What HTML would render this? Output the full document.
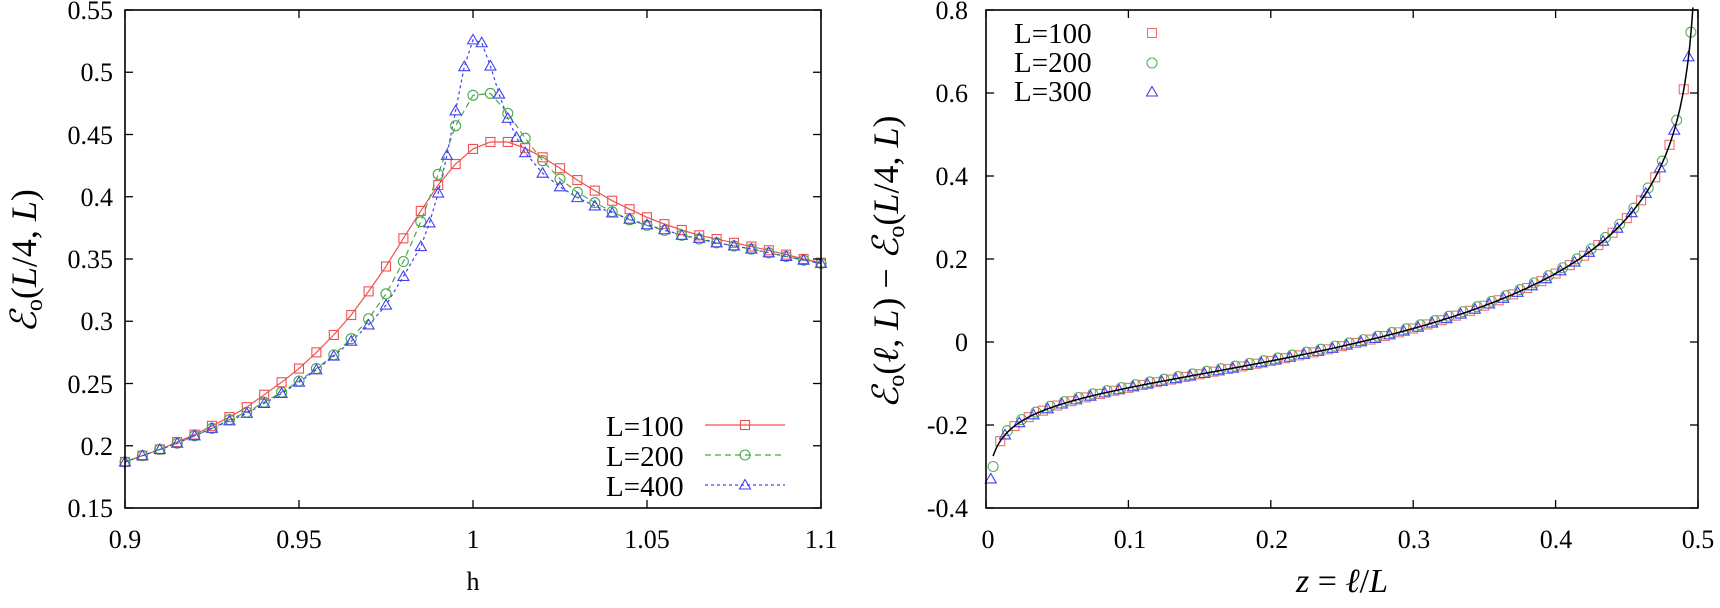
<!DOCTYPE html>
<html><head><meta charset="utf-8">
<style>
html,body{margin:0;padding:0;background:#fff;}
svg, svg text{font-family:"Liberation Serif","DejaVu Serif",serif;}
</style></head>
<body>
<svg id="s" width="1720" height="603" viewBox="0 0 1720 603" xmlns="http://www.w3.org/2000/svg" font-family="'Liberation Serif', 'DejaVu Serif', serif">
<rect width="1720" height="603" fill="#fff"/>
<g id="L"></g>
<g id="R"></g>
<g font-size="26" fill="#000" font-family="'Liberation Serif', serif">
<g text-anchor="end">
<text x="113" y="19">0.55</text>
<text x="113" y="81">0.5</text>
<text x="113" y="144">0.45</text>
<text x="113" y="206">0.4</text>
<text x="113" y="268">0.35</text>
<text x="113" y="330">0.3</text>
<text x="113" y="393">0.25</text>
<text x="113" y="455">0.2</text>
<text x="113" y="517">0.15</text>
</g>
<g text-anchor="middle">
<text x="125" y="548">0.9</text>
<text x="299" y="548">0.95</text>
<text x="473" y="548">1</text>
<text x="647" y="548">1.05</text>
<text x="821" y="548">1.1</text>
<text x="473" y="590">h</text>
</g>
<g text-anchor="end">
<text x="968" y="19">0.8</text>
<text x="968" y="102">0.6</text>
<text x="968" y="185">0.4</text>
<text x="968" y="268">0.2</text>
<text x="968" y="351">0</text>
<text x="968" y="434">-0.2</text>
<text x="968" y="517">-0.4</text>
</g>
<g text-anchor="middle">
<text x="988" y="548">0</text>
<text x="1130" y="548">0.1</text>
<text x="1272" y="548">0.2</text>
<text x="1414" y="548">0.3</text>
<text x="1556" y="548">0.4</text>
<text x="1698" y="548">0.5</text>
</g>
</g>
<g font-family="'Liberation Serif', 'DejaVu Serif', serif">
<text x="1342" y="592" font-size="34" text-anchor="middle" font-style="italic">z <tspan font-style="normal">=</tspan> ℓ<tspan font-style="normal">/</tspan>L</text>
<text transform="translate(36,261) rotate(-90)" font-size="36" text-anchor="middle"><tspan font-style="italic">ℰ</tspan><tspan font-size="24" dy="6">o</tspan><tspan dy="-6">(</tspan><tspan font-style="italic">L</tspan>/4, <tspan font-style="italic">L</tspan>)</text>
<text transform="translate(898,262) rotate(-90)" font-size="36" text-anchor="middle"><tspan font-style="italic">ℰ</tspan><tspan font-size="24" dy="6">o</tspan><tspan dy="-6">(</tspan><tspan font-style="italic">ℓ</tspan>, <tspan font-style="italic">L</tspan>) − <tspan font-style="italic">ℰ</tspan><tspan font-size="24" dy="6">o</tspan><tspan dy="-6">(</tspan><tspan font-style="italic">L</tspan>/4, <tspan font-style="italic">L</tspan>)</text>
<g font-size="29">
<text x="606" y="436">L=100</text>
<text x="606" y="466">L=200</text>
<text x="606" y="496">L=400</text>
<text x="1014" y="43">L=100</text>
<text x="1014" y="72">L=200</text>
<text x="1014" y="101">L=300</text>
</g>
</g>
</svg>
<script>
var NS="http://www.w3.org/2000/svg";
function el(p,t,a){var e=document.createElementNS(NS,t);for(var k in a)e.setAttribute(k,a[k]);p.appendChild(e);return e;}
var RED="#f05050",GRN="#4aa84a",BLU="#4040f0";
function mark(g,type,x,y,c){
 if(type==0) el(g,"rect",{x:x-4.5,y:y-4.5,width:9,height:9,fill:"none",stroke:c,"stroke-width":1.1});
 else if(type==1) el(g,"circle",{cx:x,cy:y,r:5,fill:"none",stroke:c,"stroke-width":1.1});
 else el(g,"path",{d:"M"+x+","+(y-5.5)+"L"+(x+5.5)+","+(y+4)+"L"+(x-5.5)+","+(y+4)+"Z",fill:"none",stroke:c,"stroke-width":1.1});
}
var gL=document.getElementById("L");
function lx(h){return 125+(h-0.9)*3480;}
function ly(E){return 10+(0.55-E)*1245;}
function seq(vals,start,step){var r=[];for(var i=0;i<vals.length;i++)r.push([start+i*step,vals[i]]);return r;}
var red=seq([0.187,0.192,0.197,0.203,0.209,0.216,0.223,0.231,0.241,0.251,0.262,0.275,0.289,0.305,0.324,0.344,0.3666,0.3886,0.4094,0.4263,0.4384,0.444,0.444,0.439,0.4317,0.4229,0.4134,0.4049,0.3968,0.390,0.3835,0.378,0.3733,0.369,0.366,0.363,0.360,0.357,0.3535,0.350,0.347],0.9,0.005);
var grn=seq([0.187,0.192,0.197,0.202,0.208,0.214,0.221,0.227,0.235,0.243,0.252,0.262,0.273,0.286,0.302,0.322,0.348,0.38,0.418,0.457,0.4815,0.483,0.467,0.447,0.429,0.4143,0.4036,0.3953,0.388,0.3815,0.377,0.373,0.369,0.366,0.363,0.3605,0.358,0.355,0.352,0.349,0.3465],0.9,0.005);
var blu=seq([0.187,0.192,0.197,0.202,0.208,0.214,0.220,0.226,0.234,0.242,0.251,0.261,0.272,0.284,0.297,0.313,0.336],0.9,0.005);
var bp=seq([0.360,0.379,0.403,0.4333,0.469,0.5045,0.526,0.5237,0.505,0.4825,0.463,0.4477,0.4354],0.985,0.0025);
blu=blu.concat(bp);
var bt=seq([0.4189,0.408,0.3993,0.3926,0.387,0.382,0.3775,0.3735,0.369,0.3666,0.363,0.3605,0.358,0.355,0.352,0.349,0.3465],1.02,0.005);
blu=blu.concat(bt);
function pl(g,d,c,dash){var s="";d.forEach(function(p,i){s+=(i?"L":"M")+lx(p[0]).toFixed(1)+","+ly(p[1]).toFixed(1);});
 var a={d:s,fill:"none",stroke:c,"stroke-width":1.2};if(dash)a["stroke-dasharray"]=dash;el(g,"path",a);}
pl(gL,red,RED,null);pl(gL,grn,GRN,"6,4");pl(gL,blu,BLU,"3,3");
red.forEach(function(p){mark(gL,0,lx(p[0]),ly(p[1]),RED);});
grn.forEach(function(p){mark(gL,1,lx(p[0]),ly(p[1]),GRN);});
blu.forEach(function(p){mark(gL,2,lx(p[0]),ly(p[1]),BLU);});
el(gL,"line",{x1:705,y1:425,x2:785,y2:425,stroke:RED,"stroke-width":1.2});mark(gL,0,745,425,RED);
el(gL,"line",{x1:705,y1:455,x2:785,y2:455,stroke:GRN,"stroke-width":1.2,"stroke-dasharray":"6,4"});mark(gL,1,745,455,GRN);
el(gL,"line",{x1:705,y1:485,x2:785,y2:485,stroke:BLU,"stroke-width":1.2,"stroke-dasharray":"3,3"});mark(gL,2,745,485,BLU);
el(gL,"rect",{x:125,y:10,width:696,height:498,fill:"none",stroke:"#000","stroke-width":1.6});
for(var i=0;i<=4;i++){var x=125+i*174;el(gL,"line",{x1:x,y1:508,x2:x,y2:500,stroke:"#000","stroke-width":1.3});el(gL,"line",{x1:x,y1:10,x2:x,y2:18,stroke:"#000","stroke-width":1.3});}
for(var i=0;i<=8;i++){var y=10+i*62.25;el(gL,"line",{x1:125,y1:y,x2:133,y2:y,stroke:"#000","stroke-width":1.3});el(gL,"line",{x1:821,y1:y,x2:813,y2:y,stroke:"#000","stroke-width":1.3});}
var gR=document.getElementById("R");
function rx(z){return 986+z*1424;}
function ry(v){return 10+(0.8-v)*415;}
function f(z){var t=Math.PI*z;return 0.052*Math.log(Math.tan(t))-0.141*Math.log(Math.cos(t))-0.059;}
var s="";for(var i=0;i<=600;i++){var z=0.005+(0.4997-0.005)*(i/600);var v=f(z);if(v>0.82)break;s+=(i?"L":"M")+rx(z).toFixed(1)+","+ry(v).toFixed(1);}
for(var k=1;k<50;k++){var z=k/100;mark(gR,0,rx(z),ry(f(z)),"#f07070");}
for(var k=0;k<50;k++){var z=(2*k+1)/200;var v=f(z)+0.004;if(k==0)v=-0.30;mark(gR,1,rx(z),ry(v),"#5ab05a");}
for(var k=0;k<50;k++){var z=(3*k+1)/300;var v=f(z);if(k==0)v=-0.33;mark(gR,2,rx(z),ry(v),BLU);}
el(gR,"path",{d:s,fill:"none",stroke:"#000","stroke-width":1.5});
mark(gR,0,1152,33,"#f07070");mark(gR,1,1152,63,"#5ab05a");mark(gR,2,1152,92,BLU);
el(gR,"rect",{x:986,y:10,width:712,height:498,fill:"none",stroke:"#000","stroke-width":1.6});
for(var i=0;i<=5;i++){var x=986+i*142.4;el(gR,"line",{x1:x,y1:508,x2:x,y2:500,stroke:"#000","stroke-width":1.3});el(gR,"line",{x1:x,y1:10,x2:x,y2:18,stroke:"#000","stroke-width":1.3});}
for(var i=0;i<=6;i++){var y=10+i*83;el(gR,"line",{x1:986,y1:y,x2:994,y2:y,stroke:"#000","stroke-width":1.3});el(gR,"line",{x1:1698,y1:y,x2:1690,y2:y,stroke:"#000","stroke-width":1.3});}
</script>
</body></html>
